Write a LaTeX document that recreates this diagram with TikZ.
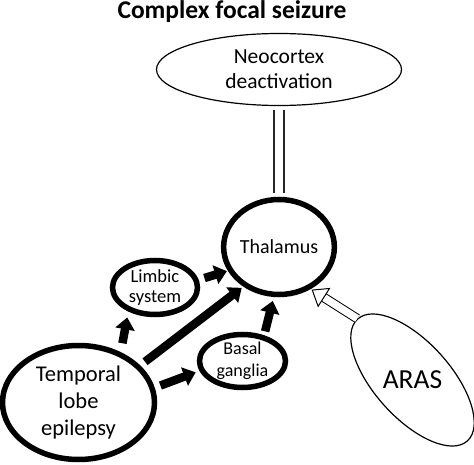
\documentclass[tikz,border=0pt]{standalone}
\usepackage{fontspec}
\setmainfont{Carlito}
\usetikzlibrary{shapes.geometric}
\usetikzlibrary{arrows.meta}

\begin{document}
\begin{tikzpicture}[x=1pt,y=-1pt,
    ring/.style={ellipse,draw,line width=5.5pt,inner sep=0pt,align=center},
    thinring/.style={ellipse,draw,line width=1.2pt,inner sep=0pt,align=center},
    blockarrow/.style={line width=8.5pt,-{Triangle[length=12pt,width=19pt]}},
    openarrow/.style={line width=1pt,double=white,double distance=7.5pt,-{Triangle[open,length=15pt,width=23pt]}}]

  \useasboundingbox (0,0) rectangle (474,465);

  \node[font=\bfseries\fontsize{25.5}{30}\selectfont, anchor=base] (title) at (232,19) {Complex focal seizure};

  \node[thinring, minimum width=245pt, minimum height=72pt, font=\fontsize{21.5}{25}\selectfont] (neo)   at (279,69.5)  {Neocortex\\deactivation};
  \node[ring, minimum width=87pt,  minimum height=95pt, font=\fontsize{20}{22}\selectfont]        (thal)  at (279,247)   {Thalamus};
  \node[ring, minimum width=85pt,  minimum height=54pt, font=\fontsize{18.5}{20.5}\selectfont]    (limb)  at (155,287.5) {Limbic\\system};
  \node[ring, minimum width=152pt, minimum height=114pt, font=\fontsize{22.5}{27}\selectfont]     (temp)  at (78.5,402.5) {Temporal\\lobe\\epilepsy};
  \node[ring, minimum width=86pt,  minimum height=53pt, font=\fontsize{18}{21.5}\selectfont]      (basal) at (242.5,361) {Basal\\ganglia};
  \node[thinring, rotate=-48, minimum width=164pt, minimum height=76pt] (aras) at (412.5,380) {};
  \node[font=\fontsize{27.5}{30}\selectfont] (arastext) at (aras.center) {ARAS};

  \draw (neo) edge[black!85, line width=1.6pt, double distance=8pt, shorten <=4pt, shorten >=4pt] (thal);
  \draw (limb.10) edge[blockarrow, shorten <=6pt, shorten >=1pt] (thal.205);
  \draw (temp.31) edge[blockarrow, shorten <=6pt, shorten >=2pt] (thal.228);
  \draw (temp.50) edge[blockarrow, shorten <=9pt, shorten >=6pt] (limb.222);
  \draw (temp.11) edge[blockarrow, shorten <=6pt, shorten >=4pt] (basal.193);
  \draw (basal.50) edge[blockarrow, shorten <=4pt, shorten >=4pt] (thal.264);
  \draw (aras.west) edge[openarrow, shorten >=1pt] (thal.-53);
\end{tikzpicture}
\end{document}
